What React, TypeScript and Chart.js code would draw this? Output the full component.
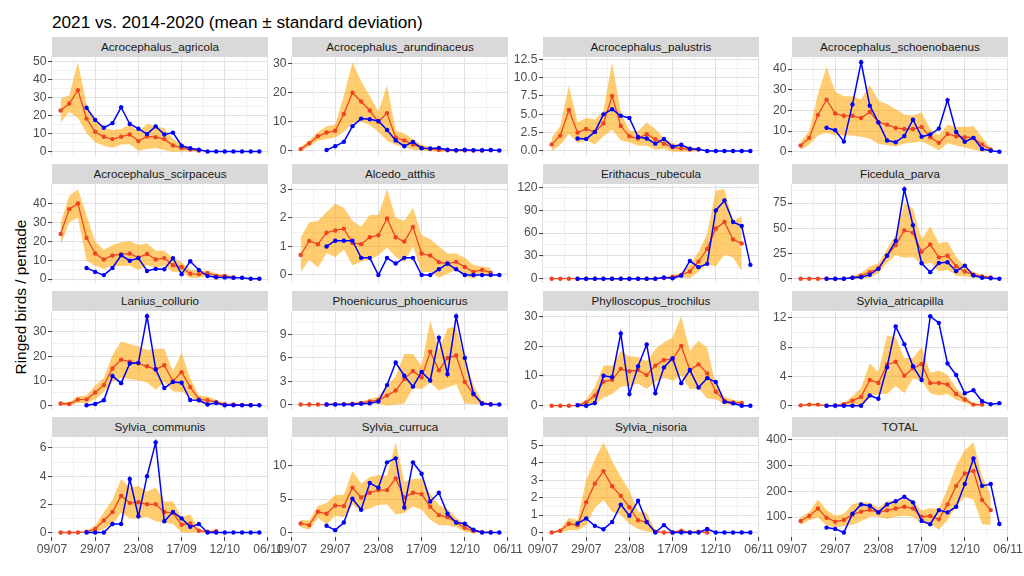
import React, { useEffect, useRef } from "react";
import { Chart, registerables } from "chart.js";
Chart.register(...registerables);

const FONT = "'Liberation Sans', Arial, Helvetica, sans-serif";
const RED = "#ee4422";
const BLUE = "#0000ff";
const BAND = "rgba(255,165,0,0.56)";

// pentade index (x position); 2021 season vs 2014-2020 mean ± sd
const pentades = [1, 2, 3, 4, 5, 6, 7, 8, 9, 10, 11, 12, 13, 14, 15, 16, 17, 18, 19, 20, 21, 22, 23, 24];
const xTickValues = [0, 5, 10, 15, 20, 25];
const xTickLabels = ["09/07", "29/07", "23/08", "17/09", "12/10", "06/11"];

const _ = null;

const agricolaMean = [22.8, 26.7, 34.1, 18.3, 11, 8.2, 6.9, 8.2, 9.5, 5.8, 8.4, 8, 6.9, 3.4, 2, 1.1, 0.5, _, _, _, _, _, _, _];
const agricolaSd = [6.7, 4.6, 15.5, 8, 6, 5, 5, 4.3, 5.5, 5.4, 7, 6, 6, 3.5, 1.8, 0.8, 0.3, _, _, _, _, _, _, _];
const agricola2021 = [_, _, _, 24.3, 17.5, 13.2, 15.8, 24.6, 15.3, 12.7, 9.7, 14, 9.5, 10.5, 3.2, 1.8, 1.0, 0, 0, 0, 0, 0, 0, 0];
const agricolaTicks = [0, 10, 20, 30, 40, 50];

const arundinaceusMean = [0.6, 2.6, 5, 6.3, 6.9, 12.7, 20, 17, 13.9, 10, 13, 4.5, 3.6, 2.2, 1.1, 0.6, 0.3, 0.2, 0.1, 0.1, 0.1, 0.1, 0.2, _];
const arundinaceusSd = [0.8, 1, 1.5, 2.2, 2.2, 6.3, 10.5, 7, 5, 3.5, 9.5, 2.5, 2.4, 1.8, 1, 0.7, 0.6, 0.4, 0.3, 0.2, 0.2, 0.2, 0.2, _];
const arundinaceus2021 = [_, _, _, 0.3, 1.6, 3.1, 8.5, 11.1, 10.9, 10.3, 7.2, 3.6, 1.6, 3.1, 0.9, 0.8, 1.0, 0.4, 0.2, 0.4, 0.2, 0.2, 0.3, 0.1];
const arundinaceusTicks = [0, 10, 20, 30];

const palustrisMean = [0.9, 2.1, 5.6, 2.5, 3.0, 2.6, 3.75, 7.5, 3.4, 2.0, 1.7, 2.3, 1.6, 1.0, 0.5, 0.35, 0.2, 0.2, _, _, _, _, _, _];
const palustrisSd = [0.9, 1.3, 3.3, 1.4, 1.5, 1.7, 1.75, 4.6, 1.9, 0.8, 1.0, 1.6, 1.4, 0.7, 0.6, 0.45, 0.3, 0.2, _, _, _, _, _, _];
const palustris2021 = [_, _, _, 1.7, 1.65, 2.6, 5.0, 5.7, 4.8, 4.5, 1.9, 1.7, 1.0, 1.65, 0.6, 0.85, 0.3, 0.25, 0, 0, 0, 0, 0, 0];
const palustrisTicks = [0, 2.5, 5, 7.5, 10, 12.5];

const schoenobaenusMean = [3.0, 6.7, 17.8, 25.2, 18.5, 17.4, 17.4, 16.3, 19.3, 14.3, 13.1, 11.5, 11, 11, 12, 7, 4.3, 8.6, 7.5, 7, 6.7, 3.5, 1.1, _];
const schoenobaenusSd = [2, 3.3, 10, 16, 10.5, 9.5, 9.5, 9, 13, 10.5, 10, 9, 7, 6.5, 7, 4, 3.7, 4.5, 4.5, 5, 5.8, 3.5, 0.6, _];
const schoenobaenus2021 = [_, _, _, 11.6, 10.4, 4.9, 22.9, 43.3, 22.3, 14.2, 5.4, 4.6, 7.6, 15.5, 7.3, 8.3, 11.2, 25, 9.6, 4.8, 6.7, 1.3, 0.5, 0];
const schoenobaenusTicks = [0, 10, 20, 30, 40];

const scirpaceusMean = [23.9, 37, 40, 21.8, 13.5, 10.4, 12.5, 13.2, 13.5, 11.4, 13.3, 10.4, 11.1, 7.3, 6.4, 2.8, 2.6, 3.1, 1.7, 1.7, 0.9, _, _, _];
const scirpaceusSd = [6, 7, 7.5, 12, 6.5, 5, 5.5, 6.3, 6.5, 6.6, 5.7, 4.6, 3.9, 3.7, 2.6, 2.2, 1.9, 1.4, 1.3, 0.8, 0.6, _, _, _];
const scirpaceus2021 = [_, _, _, 5.9, 3.8, 2.1, 5.9, 12.6, 9.7, 11.1, 4.3, 5.4, 5.2, 11.1, 2.6, 9.4, 4.8, 1.6, 1.0, 0.9, 0.7, 0.7, 0.2, 0.2];
const scirpaceusTicks = [0, 10, 20, 30, 40];

const alcedoMean = [0.7, 1.19, 1.08, 1.48, 1.56, 1.62, 1.12, 1.08, 1.32, 1.39, 1.98, 1.32, 1.17, 1.68, 0.75, 0.68, 0.45, 0.4, 0.46, 0.28, 0.11, 0.18, 0.08, _];
const alcedoSd = [0.6, 0.66, 0.82, 0.72, 0.94, 0.73, 0.78, 0.62, 0.78, 0.71, 1.02, 0.68, 0.73, 0.67, 0.65, 0.57, 0.55, 0.35, 0.29, 0.32, 0.24, 0.12, 0.17, _];
const alcedo2021 = [_, _, _, 1.0, 1.2, 1.2, 1.2, 0.6, 0.6, 0, 0.6, 0.4, 0.6, 0.6, 0, 0, 0.2, 0.4, 0.2, 0, 0, 0, 0, 0];
const alcedoTicks = [0, 1, 2, 3];

const rubeculaMean = [0, 0, 0, 0, 0, 0, 0, 0, 0, 0, 0, 0, 0, 1, 2.5, 5, 9.5, 22.5, 39, 66, 74.5, 51.5, 46.4, _];
const rubeculaSd = [0, 0, 0, 0, 0, 0, 0, 0, 0, 0, 0, 0, 0, 0.8, 1.5, 3, 9, 13, 20, 50, 43, 24, 36, _];
const rubecula2021 = [_, _, _, 0, 0, 0, 0, 0, 0, 0, 0, 0, 0, 1.5, 0.5, 4, 23.4, 15.2, 19.5, 89.7, 102.7, 74.5, 69.3, 18.2];
const rubeculaTicks = [0, 30, 60, 90, 120];

const parvaMean = [0, 0, 0, 0, 0, 0, 1, 3, 6.5, 10.4, 22.8, 33.3, 47.9, 45.6, 26.7, 33.9, 21.2, 22.8, 12.4, 7.2, 3.9, 2.3, 1.3, _];
const parvaSd = [0, 0, 0, 0, 0, 0, 1, 3, 5.5, 5, 7, 10, 27, 24, 13, 18, 14, 14, 9.5, 5, 3, 1.7, 1.2, _];
const parva2021 = [_, _, _, 0, 0, 0, 1, 1.5, 4, 9.8, 22.8, 37.5, 88.7, 53, 15.3, 6.5, 15.6, 16.3, 7.5, 13, 3.3, 1, 0.5, 0];
const parvaTicks = [0, 25, 50, 75];

const collurioMean = [0.7, 0.5, 2.3, 2.4, 5.2, 8.2, 15, 18.6, 17.8, 17.1, 15.9, 14.6, 16.3, 9.8, 13.5, 7.4, 2.5, 2.0, 1.3, 0.4, 0.3, 0.1, 0.1, _];
const collurioSd = [0.5, 0.7, 1.4, 1.6, 2.8, 2.8, 5.5, 7.4, 7.2, 6.9, 6.6, 8.4, 6.7, 4.2, 8, 3.6, 1.5, 1.6, 0.9, 0.4, 0.3, 0.1, 0.1, _];
const collurio2021 = [_, _, _, 0, 0.5, 2.0, 11.9, 9, 17, 17.3, 36.3, 14.7, 7, 9.5, 9.2, 2.1, 2.0, 0.3, 0.9, 0, 0, 0, 0, 0];
const collurioTicks = [0, 10, 20, 30];

const phoenicurusMean = [0, 0, 0, 0, 0.05, 0.05, 0.1, 0.2, 0.4, 0.55, 1.15, 1.8, 3.3, 4.3, 3.5, 6.8, 4.4, 6.0, 6.3, 2.9, 1.3, 0.2, 0.05, _];
const phoenicurusSd = [0, 0, 0, 0, 0.05, 0.05, 0.1, 0.2, 0.3, 0.45, 1.3, 1.8, 3.2, 2.2, 1.5, 4, 2.6, 3.8, 3.7, 2.8, 1.2, 0.2, 0.05, _];
const phoenicurus2021 = [_, _, _, 0, 0, 0, 0, 0.1, 0.15, 0.4, 2.5, 5.4, 3.7, 2.3, 4.2, 3.1, 8.6, 3.9, 11.35, 6.0, 1.4, 0.1, 0, 0];
const phoenicurusTicks = [0, 3, 6, 9];

const trochilusMean = [0, 0, 0, 0.1, 1.1, 3.4, 8.1, 8.7, 12.4, 11.6, 12, 10.3, 13.5, 15.4, 15.7, 20.1, 12, 13.9, 10.9, 4.7, 1.7, 1.1, 0.9, _];
const trochilusSd = [0, 0, 0, 0.1, 1, 3, 5.4, 4.8, 6, 5, 4.5, 4.7, 5.5, 6, 7.3, 10, 6.5, 8, 8.5, 2.5, 1.3, 0.9, 0.6, _];
const trochilus2021 = [_, _, _, 0.2, 0, 0.9, 10.1, 9.6, 24.3, 3.9, 13.3, 20.6, 4.2, 12.9, 16, 7.6, 12, 6.1, 9.3, 8, 1.3, 0.8, 0, 0];
const trochilusTicks = [0, 10, 20, 30];

const atricapillaMean = [0.05, 0.15, 0.15, 0, 0.05, 0.2, 0.7, 1.2, 3.5, 3.1, 5.6, 6.0, 4.1, 5.1, 5.7, 3.1, 3.1, 2.9, 1.6, 0.85, 0.15, 0.15, _, _];
const atricapillaSd = [0.05, 0.15, 0.15, 0, 0.05, 0.2, 0.6, 1.2, 2.3, 1.5, 4, 3.3, 2.4, 1.4, 2.3, 1.4, 1.7, 1.3, 0.8, 0.45, 0.15, 0.15, _, _];
const atricapilla2021 = [_, _, _, 0, 0, 0, 0, 0, 1.4, 0.95, 5.25, 10.8, 8.4, 5.4, 3.5, 12.2, 11.3, 5.75, 4.2, 1.7, 2.1, 0.6, 0.2, 0.35];
const atricapillaTicks = [0, 4, 8, 12];

const communisMean = [0, 0, 0, 0.05, 0.25, 0.85, 1.45, 2.6, 2.1, 2.15, 2.0, 2.0, 1.45, 1.4, 0.55, 0.65, 0.12, 0.05, 0.1, _, _, _, _, _];
const communisSd = [0, 0, 0, 0.05, 0.25, 0.6, 0.85, 1.2, 1.1, 1.15, 0.9, 1.2, 0.75, 0.8, 0.55, 0.65, 0.12, 0.05, 0.1, _, _, _, _, _];
const communis2021 = [_, _, _, 0, 0, 0, 0.6, 0.6, 3.8, 1.15, 4.0, 6.4, 0.8, 1.45, 1.0, 0.4, 0.6, 0, 0, 0, 0, 0, 0, 0];
const communisTicks = [0, 2, 4, 6];

const currucaMean = [1.35, 1.1, 3.1, 2.8, 4.05, 3.95, 6.7, 5.25, 5.95, 6.35, 6.35, 8.1, 5.25, 5.95, 5.75, 3.85, 2.6, 2.3, 1.5, 0.7, 0.2, 0.05, 0.05, _];
const currucaSd = [0.55, 0.7, 0.9, 1.6, 1.55, 1.65, 2.5, 2.05, 2.35, 2.25, 2.15, 5.4, 2.35, 2.05, 2.35, 1.95, 1.5, 1.2, 0.7, 0.6, 0.2, 0.05, 0.05, _];
const curruca2021 = [_, _, _, 1.0, 0.35, 1.5, 5.05, 3.4, 7.4, 6.7, 10.5, 11.1, 3.75, 10.5, 8.8, 4.65, 5.95, 2.8, 1.5, 1.3, 0.4, 0, 0, 0];
const currucaTicks = [0, 5, 10];

const nisoriaMean = [0, 0.1, 0.5, 0.42, 1.73, 2.8, 3.52, 2.65, 2.1, 1.45, 0.7, 0.6, 0.05, 0, 0, 0.1, 0, 0.05, 0, _, _, _, _, _];
const nisoriaSd = [0, 0.1, 0.35, 0.3, 1.3, 1.4, 1.65, 1.45, 1.1, 0.95, 0.5, 0.55, 0.05, 0, 0, 0.1, 0, 0.05, 0, _, _, _, _, _];
const nisoria2021 = [_, _, _, 0.52, 0.8, 0.38, 0.19, 0.6, 1.6, 0.96, 1.82, 0.6, 0, 0.42, 0, 0, 0, 0, 0.2, 0, 0, 0, 0, 0];
const nisoriaTicks = [0, 1, 2, 3, 4, 5];

const totalMean = [84.5, 104, 133, 97.4, 82, 88.4, 110, 121, 128, 118, 126, 133, 140, 133, 101, 104, 91, 149, 221, 269, 279, 166, 127, _];
const totalSd = [15, 16, 35, 30, 23, 24, 40, 37, 27, 17, 34, 32, 35, 32, 24, 31, 39, 61, 79, 91, 111, 94, 58, _];
const total2021 = [_, _, _, 59, 54, 40, 113, 149, 144, 118, 149, 161, 179, 157, 85, 72, 127, 118, 140, 228, 327, 221, 228, 73];
const totalTicks = [100, 200, 300, 400];

type Series = (number | null)[];
type Panel = { name: string; mean: Series; sd: Series; y2021: Series; ticks: number[]; decimals: number };

const panels: Panel[] = [
  { name: "Acrocephalus_agricola", mean: agricolaMean, sd: agricolaSd, y2021: agricola2021, ticks: agricolaTicks, decimals: 0 },
  { name: "Acrocephalus_arundinaceus", mean: arundinaceusMean, sd: arundinaceusSd, y2021: arundinaceus2021, ticks: arundinaceusTicks, decimals: 0 },
  { name: "Acrocephalus_palustris", mean: palustrisMean, sd: palustrisSd, y2021: palustris2021, ticks: palustrisTicks, decimals: 1 },
  { name: "Acrocephalus_schoenobaenus", mean: schoenobaenusMean, sd: schoenobaenusSd, y2021: schoenobaenus2021, ticks: schoenobaenusTicks, decimals: 0 },
  { name: "Acrocephalus_scirpaceus", mean: scirpaceusMean, sd: scirpaceusSd, y2021: scirpaceus2021, ticks: scirpaceusTicks, decimals: 0 },
  { name: "Alcedo_atthis", mean: alcedoMean, sd: alcedoSd, y2021: alcedo2021, ticks: alcedoTicks, decimals: 0 },
  { name: "Erithacus_rubecula", mean: rubeculaMean, sd: rubeculaSd, y2021: rubecula2021, ticks: rubeculaTicks, decimals: 0 },
  { name: "Ficedula_parva", mean: parvaMean, sd: parvaSd, y2021: parva2021, ticks: parvaTicks, decimals: 0 },
  { name: "Lanius_collurio", mean: collurioMean, sd: collurioSd, y2021: collurio2021, ticks: collurioTicks, decimals: 0 },
  { name: "Phoenicurus_phoenicurus", mean: phoenicurusMean, sd: phoenicurusSd, y2021: phoenicurus2021, ticks: phoenicurusTicks, decimals: 0 },
  { name: "Phylloscopus_trochilus", mean: trochilusMean, sd: trochilusSd, y2021: trochilus2021, ticks: trochilusTicks, decimals: 0 },
  { name: "Sylvia_atricapilla", mean: atricapillaMean, sd: atricapillaSd, y2021: atricapilla2021, ticks: atricapillaTicks, decimals: 0 },
  { name: "Sylvia_communis", mean: communisMean, sd: communisSd, y2021: communis2021, ticks: communisTicks, decimals: 0 },
  { name: "Sylvia_curruca", mean: currucaMean, sd: currucaSd, y2021: curruca2021, ticks: currucaTicks, decimals: 0 },
  { name: "Sylvia_nisoria", mean: nisoriaMean, sd: nisoriaSd, y2021: nisoria2021, ticks: nisoriaTicks, decimals: 0 },
  { name: "TOTAL", mean: totalMean, sd: totalSd, y2021: total2021, ticks: totalTicks, decimals: 0 },
];

// layout
const COL_LEFT = [52, 292, 543, 792];
const STRIP_TOP = [37, 164, 291, 417];
const STRIP_H = 20;
const PLOT_W = 216;
const PLOT_H = 100;
const AXIS_W = 46;
const PAD_T = 8;
const PAD_R = 18;
const XAXIS_H = 22;
const TICK_FONT = 12.2;
const STRIP_FONT = 11.7;

function PanelChart({ p, col, row }: { p: Panel; col: number; row: number }) {
  const ref = useRef<HTMLCanvasElement>(null);
  const bottom = row === 3;
  const W = AXIS_W + PLOT_W + PAD_R;
  const H = PAD_T + PLOT_H + (bottom ? XAXIS_H : PAD_T);
  const plotTop = STRIP_TOP[row] + STRIP_H;

  useEffect(() => {
    if (!ref.current) return;
    const lo = p.mean.map((m, i) => (m == null || p.sd[i] == null ? null : m - (p.sd[i] as number)));
    const hi = p.mean.map((m, i) => (m == null || p.sd[i] == null ? null : m + (p.sd[i] as number)));
    const pts = (arr: Series) =>
      pentades.map((x, i) => ({ x, y: arr[i] })).filter((d) => d.y != null) as { x: number; y: number }[];
    const all = [...lo, ...hi, ...p.mean, ...p.y2021].filter((v) => v != null) as number[];
    const dmin = Math.min(...all);
    const dmax = Math.max(...all);
    const ext = (dmax - dmin) * 0.05;
    const ymin = dmin - ext;
    const ymax = dmax + ext;
    const t0 = p.ticks[0];
    const step = p.ticks[1] - p.ticks[0];
    const half = step / 2;
    const yt: { value: number }[] = [];
    for (let k = Math.ceil((ymin - t0) / half - 1e-9); t0 + k * half <= ymax + 1e-9; k++) {
      yt.push({ value: t0 + k * half });
    }
    const isMajorY = (v: number) => {
      const r = (v - t0) / step;
      return Math.abs(r - Math.round(r)) < 1e-6;
    };
    const xt: { value: number }[] = [];
    for (let k = 0; k <= 10; k++) xt.push({ value: k * 2.5 });
    const isMajorX = (v: number) => Math.abs(v / 5 - Math.round(v / 5)) < 1e-6;

    const gridY = {
      color: (ctx: any) => (ctx.tick && isMajorY(ctx.tick.value) ? "#e0e0e0" : "#e8e8e8"),
      lineWidth: (ctx: any) => (ctx.tick && isMajorY(ctx.tick.value) ? 1.05 : 0.6),
      tickColor: (ctx: any) => (ctx.tick && isMajorY(ctx.tick.value) ? "#444444" : "rgba(0,0,0,0)"),
      tickLength: 4,
      drawTicks: true,
    };
    const gridX = {
      color: (ctx: any) => (ctx.tick && isMajorX(ctx.tick.value) ? "#e0e0e0" : "#e8e8e8"),
      lineWidth: (ctx: any) => (ctx.tick && isMajorX(ctx.tick.value) ? 1.05 : 0.6),
      tickColor: (ctx: any) => (ctx.tick && isMajorX(ctx.tick.value) ? "#444444" : "rgba(0,0,0,0)"),
      tickLength: 4,
      drawTicks: bottom,
    };

    const chart = new Chart(ref.current, {
      type: "line",
      data: {
        datasets: [
          {
            label: "2021",
            data: pts(p.y2021),
            borderColor: BLUE,
            backgroundColor: BLUE,
            borderWidth: 1.5,
            pointRadius: 2.2,
            pointBorderWidth: 0,
            fill: false,
            order: 0,
          },
          {
            label: "2014-2020 mean",
            data: pts(p.mean),
            borderColor: RED,
            backgroundColor: RED,
            borderWidth: 1.3,
            pointRadius: 2.2,
            pointBorderWidth: 0,
            fill: false,
            order: 1,
          },
          {
            label: "mean + sd",
            data: pts(hi),
            borderColor: "rgba(0,0,0,0)",
            borderWidth: 0,
            pointRadius: 0,
            backgroundColor: BAND,
            fill: "+1",
            order: 2,
          },
          {
            label: "mean - sd",
            data: pts(lo),
            borderColor: "rgba(0,0,0,0)",
            borderWidth: 0,
            pointRadius: 0,
            fill: false,
            order: 3,
          },
        ],
      },
      options: {
        animation: false,
        responsive: false,
        maintainAspectRatio: false,
        events: [],
        layout: { padding: { top: PAD_T, right: PAD_R, bottom: bottom ? 0 : PAD_T, left: 0 } },
        plugins: {
          legend: { display: false },
          tooltip: { enabled: false },
          filler: { drawTime: "beforeDatasetsDraw" },
        } as any,
        scales: {
          x: {
            type: "linear",
            min: 0,
            max: 25,
            afterBuildTicks: (s: any) => {
              s.ticks = xt;
            },
            afterFit: (s: any) => {
              s.height = bottom ? XAXIS_H : 0;
            },
            grid: gridX as any,
            border: { display: false },
            ticks: {
              display: bottom,
              autoSkip: false,
              maxRotation: 0,
              padding: 1,
              color: "#4d4d4d",
              font: { family: FONT, size: TICK_FONT },
              callback: (v: any) => {
                const n = Number(v);
                if (!isMajorX(n)) return "";
                return xTickLabels[xTickValues.indexOf(Math.round(n))] ?? "";
              },
            },
          },
          y: {
            type: "linear",
            min: ymin,
            max: ymax,
            afterBuildTicks: (s: any) => {
              s.ticks = yt;
            },
            afterFit: (s: any) => {
              s.width = AXIS_W;
            },
            grid: gridY as any,
            border: { display: false },
            ticks: {
              autoSkip: false,
              padding: 1.5,
              color: "#4d4d4d",
              font: { family: FONT, size: TICK_FONT },
              callback: (v: any) => {
                const n = Number(v);
                if (!isMajorY(n)) return "";
                return n.toFixed(p.decimals);
              },
            },
          },
        },
      },
    });
    return () => chart.destroy();
  }, [p, bottom]);

  return (
    <>
      <div
        style={{
          position: "absolute",
          left: COL_LEFT[col],
          top: STRIP_TOP[row],
          width: PLOT_W,
          height: STRIP_H,
          background: "#d9d9d9",
          color: "#1a1a1a",
          fontFamily: FONT,
          fontSize: STRIP_FONT,
          lineHeight: `${STRIP_H}px`,
          textAlign: "center",
          whiteSpace: "nowrap",
        }}
      >
        {p.name}
      </div>
      <canvas
        ref={ref}
        width={W}
        height={H}
        style={{
          position: "absolute",
          left: COL_LEFT[col] - AXIS_W,
          top: plotTop - PAD_T,
          width: W,
          height: H,
          display: "block",
        }}
      />
    </>
  );
}

export default function App() {
  return (
    <div
      style={{
        position: "fixed",
        left: 0,
        top: 0,
        width: 1024,
        height: 576,
        background: "#ffffff",
        overflow: "hidden",
        fontFamily: FONT,
      }}
    >
      <div
        style={{
          position: "absolute",
          left: 52,
          top: 12,
          fontSize: 17.2,
          lineHeight: "20px",
          color: "#000000",
          whiteSpace: "nowrap",
        }}
      >
        2021 vs. 2014-2020 (mean ± standard deviation)
      </div>
      <div
        style={{
          position: "absolute",
          left: 21 - 150,
          top: 297 - 10,
          width: 300,
          height: 20,
          lineHeight: "20px",
          textAlign: "center",
          fontSize: 15.4,
          color: "#000000",
          transform: "rotate(-90deg)",
          transformOrigin: "center center",
          whiteSpace: "nowrap",
        }}
      >
        Ringed birds / pentade
      </div>
      {panels.map((p, i) => (
        <PanelChart key={p.name} p={p} col={i % 4} row={Math.floor(i / 4)} />
      ))}
    </div>
  );
}
